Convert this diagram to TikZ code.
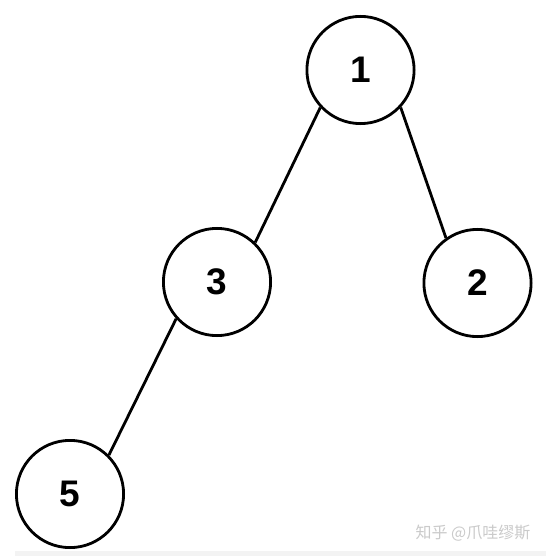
\documentclass[tikz,border=0pt]{standalone}
\usepackage{fontspec}
\setmainfont{Liberation Sans}
\newfontfamily\cjk{Noto Sans CJK SC}
\definecolor{wmgray}{HTML}{CACACA}
\definecolor{stripgray}{HTML}{F3F3F3}
\begin{document}
\begin{tikzpicture}[x=1pt,y=-1pt,
  treenode/.style={circle,draw=black,line width=2.8pt,minimum size=107.2pt,inner sep=0pt,
    font=\fontsize{37}{40}\selectfont\bfseries},
  edge/.style={draw=black,line width=2.8pt}]
\useasboundingbox[fill=white] (0,0) rectangle (546,556);
\fill[stripgray] (15,551) rectangle (546,556);
\node[treenode] (n1) at (360.5,70) {1};
\node[treenode] (n3) at (217,282) {3};
\node[treenode] (n2) at (477.5,283) {2};
\node[treenode] (n5) at (70,494) {5};
\draw[edge] (n1.223) -- (n3.46);
\draw[edge] (n1.317) -- (n2.125);
\draw[edge] (n3.222) -- (n5.45);
\node[text=wmgray,font=\cjk\fontsize{16}{18}\selectfont,inner sep=0pt] (wm) at (473,533) {知乎 @爪哇缪斯};
\end{tikzpicture}
\end{document}
